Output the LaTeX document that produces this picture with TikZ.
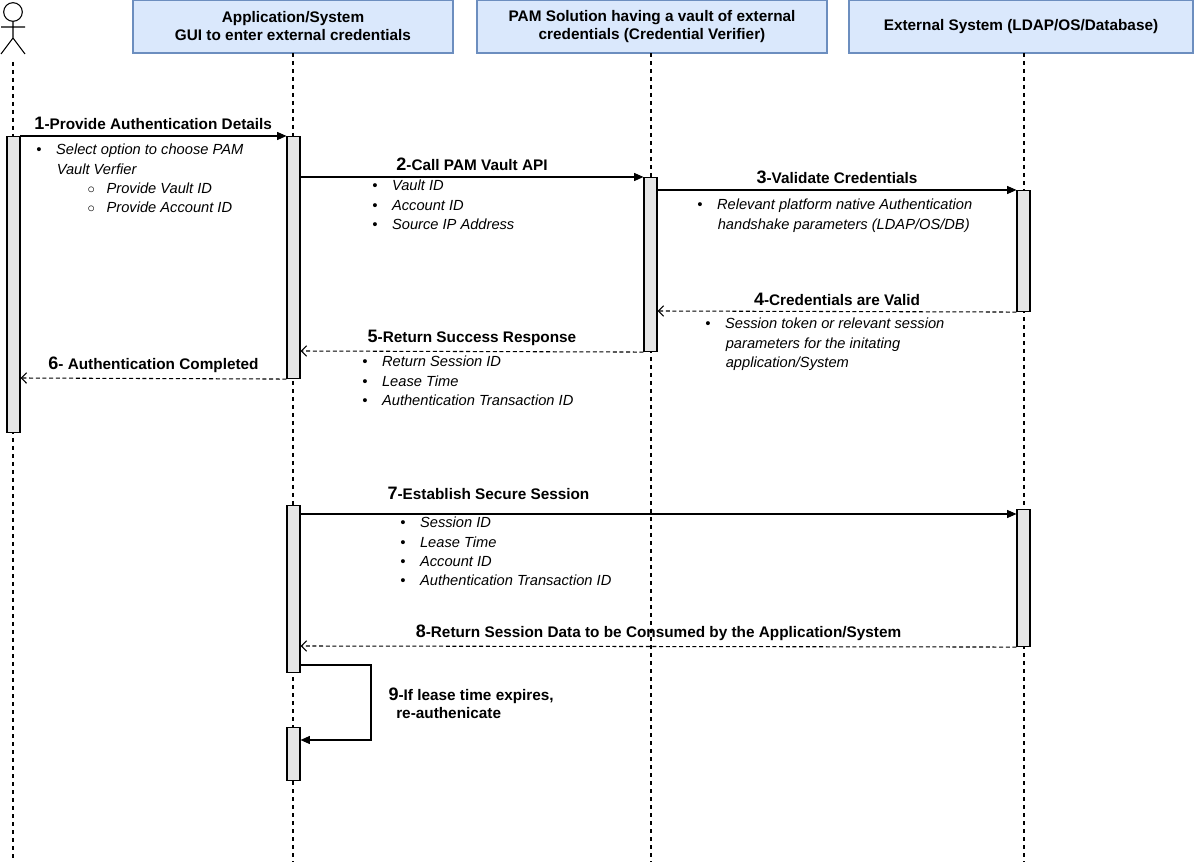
\documentclass[tikz,border=0pt]{standalone}
\usepackage{fontspec}
\setmainfont{Liberation Sans}
\usetikzlibrary{arrows.meta}
\definecolor{hdrfill}{HTML}{DAE8FC}
\definecolor{hdrline}{HTML}{6C8EBF}
\definecolor{barfill}{HTML}{E6E6E6}
\begin{document}
\begin{tikzpicture}[x=0.75pt,y=-0.75pt,
  hdr/.style={draw=hdrline,fill=hdrfill,line width=0.8pt,align=center,font=\fontsize{11.5}{13.5}\selectfont\bfseries},
  life/.style={dashed,line width=0.8pt,dash pattern=on 3pt off 3pt},
  bar/.style={draw,fill=barfill,line width=0.8pt},
  msg/.style={line width=0.8pt,-{Triangle[length=7pt,width=6pt]}},
  ret/.style={line width=0.8pt,dash pattern=on 3pt off 2pt,-{Straight Barb[length=4pt,width=8pt]}},
  lbl/.style={font=\fontsize{11.5}{13.5}\selectfont\bfseries,inner sep=1pt},
  note/.style={font=\fontsize{11}{14.5}\selectfont\itshape,align=left,anchor=north west,inner sep=0pt}]
\useasboundingbox (0,0) rectangle (1200,862);
\newcommand{\bnum}[1]{{\fontsize{13.5}{13.5}\selectfont #1}}
% actor
\node[draw,circle,minimum size=14pt,inner sep=0pt,line width=0.8pt] (head) at (13,12) {};
\coordinate (hip) at (13,38);
\draw[line width=0.8pt] (head.south) -- (hip) (1,27) -- (25,27) (hip) -- (1,54) (hip) -- (25,54);
% headers
\node[hdr,minimum width=320*0.75pt,minimum height=53*0.75pt] (h1) at (293,26.5) {Application/System\\GUI to enter external credentials};
\node[hdr,minimum width=350*0.75pt,minimum height=53*0.75pt] (h2) at (652,26.5) {PAM Solution having a vault of external\\credentials (Credential Verifier)};
\node[hdr,minimum width=344*0.75pt,minimum height=53*0.75pt] (h3) at (1021,26.5) {External System (LDAP/OS/Database)};
% lifelines
\coordinate (e0) at (13,862); \coordinate (s0) at (13,62);
\coordinate (e1) at (293,862); \coordinate (e2) at (651,862); \coordinate (e3) at (1024,862);
\draw[life] (s0) -- (e0);
\draw[life] (293,53) -- (e1);
\draw[life] (651,53) -- (e2);
\draw[life] (1024,53) -- (e3);
% bars
\node[bar,minimum width=13*0.75pt,minimum height=296*0.75pt,inner sep=0pt,anchor=north] (a0) at (13.5,136) {};
\node[bar,minimum width=13*0.75pt,minimum height=242*0.75pt,inner sep=0pt,anchor=north] (a1) at (293.5,136) {};
\node[bar,minimum width=13*0.75pt,minimum height=174*0.75pt,inner sep=0pt,anchor=north] (p1) at (650.5,177) {};
\node[bar,minimum width=13*0.75pt,minimum height=121*0.75pt,inner sep=0pt,anchor=north] (x1) at (1023.5,190) {};
\node[bar,minimum width=13*0.75pt,minimum height=167*0.75pt,inner sep=0pt,anchor=north] (a2) at (293.5,505) {};
\node[bar,minimum width=13*0.75pt,minimum height=137*0.75pt,inner sep=0pt,anchor=north] (x2) at (1023.5,509) {};
\node[bar,minimum width=13*0.75pt,minimum height=53*0.75pt,inner sep=0pt,anchor=north] (a3) at (293.5,727) {};
% messages
\draw[msg] (20,136) -- (a1.north west) node[lbl,midway,above=3pt] {\bnum{1}-Provide Authentication Details};
\node[note] (n1) at (36,144) {\textbullet\hspace{1em}Select option to choose PAM\\\hspace{1.4em}Vault Verfier\\\hspace{3.5em}$\circ$\hspace{0.8em}Provide Vault ID\\\hspace{3.5em}$\circ$\hspace{0.8em}Provide Account ID};
\draw[msg] (a1.east |- 0,177) -- (p1.north west) node[lbl,midway,above=3pt] {\bnum{2}-Call PAM Vault API};
\node[note] (n2) at (372,180) {\textbullet\hspace{1em}Vault ID\\\textbullet\hspace{1em}Account ID\\\textbullet\hspace{1em}Source IP Address};
\draw[msg] (p1.east |- 0,190) -- (x1.north west) node[lbl,midway,above=3pt] {\bnum{3}-Validate Credentials};
\node[note] (n3) at (697,199) {\textbullet\hspace{1em}Relevant platform native Authentication\\\hspace{1.4em}handshake parameters (LDAP/OS/DB)};
\draw[ret] (x1.south west) -- (p1.east |- 0,311) node[lbl,midway,above=3pt] {\bnum{4}-Credentials are Valid};
\node[note] (n4) at (705,318) {\textbullet\hspace{1em}Session token or relevant session\\\hspace{1.4em}parameters for the initating\\\hspace{1.4em}application/System};
\draw[ret] (p1.south west) -- (a1.east |- 0,351) node[lbl,midway,above=3pt] {\bnum{5}-Return Success Response};
\node[note] (n5) at (362,356) {\textbullet\hspace{1em}Return Session ID\\\textbullet\hspace{1em}Lease Time\\\textbullet\hspace{1em}Authentication Transaction ID};
\draw[ret] (a1.south west) -- (a0.east |- 0,378) node[lbl,midway,above=3pt] {\bnum{6}- Authentication Completed};
\draw[msg] (a2.east |- 0,514) -- (x2.west |- 0,514) node[lbl,midway,above=9pt,xshift=-170*0.75pt] {\bnum{7}-Establish Secure Session};
\node[note] (n7) at (400,517) {\textbullet\hspace{1em}Session ID\\\textbullet\hspace{1em}Lease Time\\\textbullet\hspace{1em}Account ID\\\textbullet\hspace{1em}Authentication Transaction ID};
\draw[ret] (x2.south west) -- (a2.east |- 0,646) node[lbl,midway,above=3pt] {\bnum{8}-Return Session Data to be Consumed by the Application/System};
\coordinate (l0) at (300,665); \coordinate (l1) at (371,665); \coordinate (l2) at (371,740);
\draw[msg] (l0) -- (l1) -- (l2) -- (a3.east |- 0,740);
\node[lbl,align=left,anchor=west] (n9) at (387,703) {\bnum{9}-If lease time expires,\\\hspace{0.5em}re-authenicate};
\end{tikzpicture}
\end{document}
